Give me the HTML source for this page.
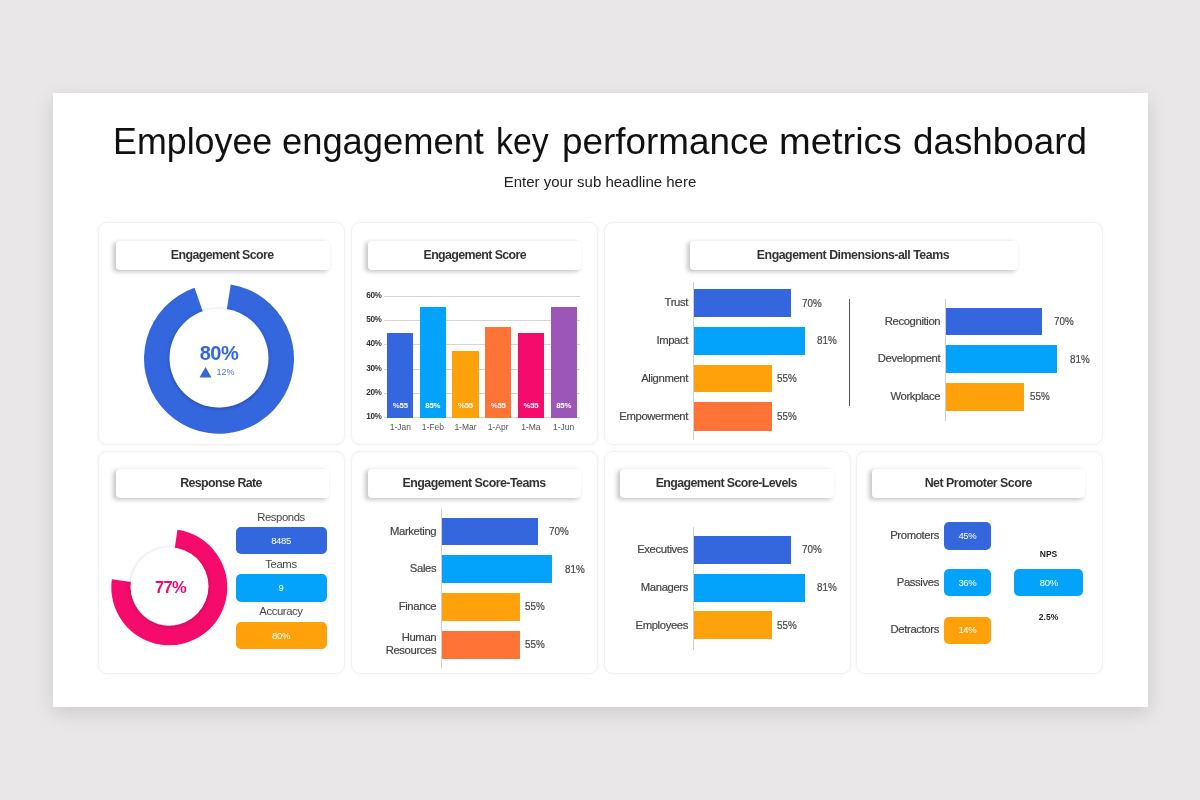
<!DOCTYPE html>
<html lang="en">
<head>
<meta charset="utf-8">
<title>Employee engagement key performance metrics dashboard</title>
<style>
*{box-sizing:border-box;margin:0;padding:0}
html,body{width:1200px;height:800px;overflow:hidden}
body{background:#e9e7e8;font-family:"Liberation Sans",sans-serif;position:relative;color:#444}
.slide{position:absolute;left:53px;top:93px;width:1095px;height:614px;background:#fff;box-shadow:0 6px 18px rgba(0,0,0,.13)}
.abs{position:absolute}
h1{position:absolute;left:0;top:118px;width:1200px;height:48px;font-weight:400;font-size:36.6px;line-height:48px;color:#111;white-space:nowrap}
h1 span{position:absolute;top:0;transform-origin:left center;display:block}
.sub{position:absolute;left:0;top:172px;width:1200px;text-align:center;font-size:15px;line-height:20px;color:#222;white-space:nowrap}
.card{position:absolute;background:#fff;border:1.5px solid #f1f1f1;border-radius:9px;box-shadow:0 0 4px rgba(0,0,0,.04)}
.pill{position:absolute;height:29px;background:#fff;border-radius:4px;box-shadow:-2.5px 1.5px 4px rgba(0,0,0,.22);text-align:center;font-weight:700;font-size:12.4px;letter-spacing:-.6px;line-height:29px;color:#333;white-space:nowrap}
.t{position:absolute;white-space:nowrap;line-height:1}
.lab{position:absolute;white-space:nowrap;font-size:11.3px;line-height:13px;letter-spacing:-.38px;color:#444;text-align:right;-webkit-text-stroke:.2px #444;margin-top:.4px}
.val{position:absolute;white-space:nowrap;font-size:11.2px;line-height:14px;color:#444;-webkit-text-stroke:.2px #444;transform:scaleX(.88);transform-origin:left center}
.bar{position:absolute}
.c1{background:#3466dd}.c2{background:#03a3fb}.c3{background:#ffa10a}.c4{background:#ff7337}.c5{background:#f40b6b}.c6{background:#9c56b8}
.axis{position:absolute;width:1px;background:#cfcfcf}
.btn{position:absolute;border-radius:5px;color:#fff;text-align:center;font-size:9.5px;letter-spacing:-.3px;white-space:nowrap}
</style>
</head>
<body>
<div class="slide"></div>
<h1><span style="left:113.2px;transform:scaleX(0.979)">Employee</span> <span style="left:281.6px;transform:scaleX(0.993)">engagement</span> <span style="left:495.9px;transform:scaleX(0.926)">key</span> <span style="left:561.8px;transform:scaleX(1.007)">performance</span> <span style="left:778.9px;transform:scaleX(1.041)">metrics</span> <span style="left:913.0px;transform:scaleX(1.006)">dashboard</span></h1>
<div class="sub">Enter your sub headline here</div>

<!-- cards -->
<div class="card" style="left:98px;top:222px;width:247px;height:223px"></div>
<div class="card" style="left:351px;top:222px;width:247px;height:223px"></div>
<div class="card" style="left:604px;top:222px;width:499px;height:223px"></div>
<div class="card" style="left:98px;top:451px;width:247px;height:223px"></div>
<div class="card" style="left:351px;top:451px;width:247px;height:223px"></div>
<div class="card" style="left:604px;top:451px;width:247px;height:223px"></div>
<div class="card" style="left:856px;top:451px;width:247px;height:223px"></div>

<!-- pills -->
<div class="pill" style="left:115.7px;top:240.8px;width:214.3px;padding-right:1.4px">Engagement Score</div>
<div class="pill" style="left:368.4px;top:240.8px;width:212.8px">Engagement Score</div>
<div class="pill" style="left:689.7px;top:240.8px;width:328.5px;padding-right:2px;letter-spacing:-.5px">Engagement Dimensions-all Teams</div>
<div class="pill" style="left:115.7px;top:468.8px;width:213.3px;padding-right:2.6px">Response Rate</div>
<div class="pill" style="left:368.2px;top:468.8px;width:212.8px;padding-right:1px;letter-spacing:-.52px">Engagement Score-Teams</div>
<div class="pill" style="left:620.2px;top:468.8px;width:213.5px;padding-right:1.4px">Engagement Score-Levels</div>
<div class="pill" style="left:871.7px;top:468.8px;width:213.3px;letter-spacing:-.5px">Net Promoter Score</div>

<!-- card1 donut -->
<svg class="abs" style="left:0;top:0" width="1200" height="800" viewBox="0 0 1200 800">
<defs><filter id="sh" x="-20%" y="-20%" width="140%" height="140%"><feGaussianBlur stdDeviation="2"/></filter></defs>
<path d="M230.73,284.62A75,75 0 1 1 194.58,287.79L203.21,312.84A48.5,48.5 0 1 0 226.59,310.80Z" fill="#3466dd"/>
<circle cx="219" cy="359" r="49" fill="#000" opacity=".32" filter="url(#sh)"/>
<circle cx="219" cy="358.1" r="49.5" fill="#fff"/>
<path d="M199.5,377.5L205.5,367L211.5,377.5Z" fill="#3466dd"/>
<!-- card4 donut -->
<path d="M177.37,529.86A58,58 0 1 1 111.86,579.23L131.17,581.94A38.5,38.5 0 1 0 174.66,549.17Z" fill="#f40b6b"/>
<circle cx="169.5" cy="587" r="38.5" fill="#000" opacity=".28" filter="url(#sh)"/>
<circle cx="169.5" cy="586.2" r="39" fill="#fff"/>
</svg>
<div class="t" style="left:169px;top:343px;width:100px;text-align:center;font-size:20px;font-weight:700;color:#3466dd;letter-spacing:-.5px">80%</div>
<div class="t" style="left:216.5px;top:368px;font-size:9px;color:#4a76e0">12%</div>
<div class="t" style="left:120.5px;top:579px;width:100px;text-align:center;font-size:16.5px;font-weight:700;color:#f40b6b;letter-spacing:-.7px">77%</div>

<!-- card2 column chart -->
<div class="abs" style="left:384px;top:295.6px;width:196px;height:1px;background:#d4d4d4"></div><div class="t" style="left:352px;top:291.6px;width:29.5px;text-align:right;font-size:8.2px;font-weight:700;color:#333;letter-spacing:-.4px">60%</div>
<div class="abs" style="left:384px;top:319.9px;width:196px;height:1px;background:#d4d4d4"></div><div class="t" style="left:352px;top:315.9px;width:29.5px;text-align:right;font-size:8.2px;font-weight:700;color:#333;letter-spacing:-.4px">50%</div>
<div class="abs" style="left:384px;top:344.2px;width:196px;height:1px;background:#d4d4d4"></div><div class="t" style="left:352px;top:340.2px;width:29.5px;text-align:right;font-size:8.2px;font-weight:700;color:#333;letter-spacing:-.4px">40%</div>
<div class="abs" style="left:384px;top:368.8px;width:196px;height:1px;background:#d4d4d4"></div><div class="t" style="left:352px;top:364.8px;width:29.5px;text-align:right;font-size:8.2px;font-weight:700;color:#333;letter-spacing:-.4px">30%</div>
<div class="abs" style="left:384px;top:393.1px;width:196px;height:1px;background:#d4d4d4"></div><div class="t" style="left:352px;top:389.1px;width:29.5px;text-align:right;font-size:8.2px;font-weight:700;color:#333;letter-spacing:-.4px">20%</div>
<div class="abs" style="left:384px;top:417.1px;width:196px;height:1px;background:#d4d4d4"></div><div class="t" style="left:352px;top:413.1px;width:29.5px;text-align:right;font-size:8.2px;font-weight:700;color:#333;letter-spacing:-.4px">10%</div>
<div class="bar c1" style="left:387.1px;top:333.3px;width:26.4px;height:84.3px"></div><div class="t" style="left:387.1px;top:402px;width:26.4px;text-align:center;font-size:7.8px;letter-spacing:-.25px;font-weight:700;color:#fff">%55</div><div class="t" style="left:382.1px;top:423px;width:36.4px;text-align:center;font-size:8.5px;color:#555">1-Jan</div>
<div class="bar c2" style="left:419.6px;top:306.6px;width:26.4px;height:111.0px"></div><div class="t" style="left:419.6px;top:402px;width:26.4px;text-align:center;font-size:7.8px;letter-spacing:-.25px;font-weight:700;color:#fff">85%</div><div class="t" style="left:414.6px;top:423px;width:36.4px;text-align:center;font-size:8.5px;color:#555">1-Feb</div>
<div class="bar c3" style="left:452.3px;top:350.7px;width:26.4px;height:66.9px"></div><div class="t" style="left:452.3px;top:402px;width:26.4px;text-align:center;font-size:7.8px;letter-spacing:-.25px;font-weight:700;color:#fff">%55</div><div class="t" style="left:447.3px;top:423px;width:36.4px;text-align:center;font-size:8.5px;color:#555">1-Mar</div>
<div class="bar c4" style="left:485px;top:327.3px;width:26.4px;height:90.3px"></div><div class="t" style="left:485px;top:402px;width:26.4px;text-align:center;font-size:7.8px;letter-spacing:-.25px;font-weight:700;color:#fff">%55</div><div class="t" style="left:480px;top:423px;width:36.4px;text-align:center;font-size:8.5px;color:#555">1-Apr</div>
<div class="bar c5" style="left:517.7px;top:333.3px;width:26.4px;height:84.3px"></div><div class="t" style="left:517.7px;top:402px;width:26.4px;text-align:center;font-size:7.8px;letter-spacing:-.25px;font-weight:700;color:#fff">%55</div><div class="t" style="left:512.7px;top:423px;width:36.4px;text-align:center;font-size:8.5px;color:#555">1-Ma</div>
<div class="bar c6" style="left:550.5px;top:306.6px;width:26.4px;height:111.0px"></div><div class="t" style="left:550.5px;top:402px;width:26.4px;text-align:center;font-size:7.8px;letter-spacing:-.25px;font-weight:700;color:#fff">85%</div><div class="t" style="left:545.5px;top:423px;width:36.4px;text-align:center;font-size:8.5px;color:#555">1-Jun</div>

<!-- card3 -->
<div class="axis" style="left:692.7px;top:281.5px;height:158.2px"></div>
<div class="bar c1" style="left:693.7px;top:289.3px;width:97.0px;height:27.7px"></div><div class="lab" style="right:512px;top:296.1px">Trust</div><div class="val" style="left:801.5px;top:295.6px">70%</div>
<div class="bar c2" style="left:693.7px;top:327px;width:111.3px;height:27.7px"></div><div class="lab" style="right:512px;top:333.9px">Impact</div><div class="val" style="left:817px;top:333.4px">81%</div>
<div class="bar c3" style="left:693.7px;top:364.7px;width:78.3px;height:27.7px"></div><div class="lab" style="right:512px;top:371.5px">Alignment</div><div class="val" style="left:776.8px;top:371.0px">55%</div>
<div class="bar c4" style="left:693.7px;top:402.4px;width:78.3px;height:28.2px"></div><div class="lab" style="right:512px;top:409.5px">Empowerment</div><div class="val" style="left:776.8px;top:409.0px">55%</div>
<div class="abs" style="left:848.7px;top:298.8px;width:1px;height:107.5px;background:#555"></div>
<div class="axis" style="left:944.9px;top:298.8px;height:122.7px"></div>
<div class="bar c1" style="left:945.9px;top:308px;width:96.1px;height:27.2px"></div><div class="lab" style="right:259.79999999999995px;top:314.6px">Recognition</div><div class="val" style="left:1053.7px;top:314.1px">70%</div>
<div class="bar c2" style="left:945.9px;top:345.2px;width:110.8px;height:27.8px"></div><div class="lab" style="right:259.79999999999995px;top:352.1px">Development</div><div class="val" style="left:1070px;top:351.6px">81%</div>
<div class="bar c3" style="left:945.9px;top:383px;width:77.9px;height:27.6px"></div><div class="lab" style="right:259.79999999999995px;top:389.8px">Workplace</div><div class="val" style="left:1029.9px;top:389.3px">55%</div>

<!-- card4 -->
<div class="t" style="left:231px;top:512.4px;width:100px;text-align:center;font-size:11.3px;letter-spacing:-.4px;color:#444">Responds</div><div class="btn c1" style="left:235.6px;top:526.7px;width:91px;height:27.7px;line-height:27.7px">8485</div>
<div class="t" style="left:231px;top:559.2px;width:100px;text-align:center;font-size:11.3px;letter-spacing:-.4px;color:#444">Teams</div><div class="btn c2" style="left:235.6px;top:573.9px;width:91px;height:27.7px;line-height:27.7px">9</div>
<div class="t" style="left:231px;top:606.0px;width:100px;text-align:center;font-size:11.3px;letter-spacing:-.4px;color:#444">Accuracy</div><div class="btn c3" style="left:235.6px;top:621.6px;width:91px;height:27.3px;line-height:27.3px">80%</div>

<!-- card5 -->
<div class="axis" style="left:440.9px;top:508.5px;height:159.0px"></div>
<div class="bar c1" style="left:441.9px;top:517.6px;width:96.1px;height:27.7px"></div><div class="lab" style="right:763.8px;top:524.5px">Marketing</div><div class="val" style="left:549.3px;top:524.0px">70%</div>
<div class="bar c2" style="left:441.9px;top:555.3px;width:110.5px;height:27.7px"></div><div class="lab" style="right:763.8px;top:562.1px">Sales</div><div class="val" style="left:565.4px;top:561.6px">81%</div>
<div class="bar c3" style="left:441.9px;top:593px;width:78.0px;height:27.7px"></div><div class="lab" style="right:763.8px;top:599.9px">Finance</div><div class="val" style="left:525px;top:599.4px">55%</div>
<div class="bar c4" style="left:441.9px;top:630.7px;width:78.0px;height:28.1px"></div><div class="lab" style="right:763.8px;top:630.8px">Human<br>Resources</div><div class="val" style="left:525px;top:637.2px">55%</div>

<!-- card6 -->
<div class="axis" style="left:692.7px;top:526.7px;height:123.5px"></div>
<div class="bar c1" style="left:693.7px;top:536.2px;width:97.0px;height:27.7px"></div><div class="lab" style="right:512px;top:542.9px">Executives</div><div class="val" style="left:801.5px;top:542.4px">70%</div>
<div class="bar c2" style="left:693.7px;top:573.9px;width:111.3px;height:27.7px"></div><div class="lab" style="right:512px;top:580.5px">Managers</div><div class="val" style="left:817px;top:580.0px">81%</div>
<div class="bar c3" style="left:693.7px;top:611.2px;width:78.3px;height:28.1px"></div><div class="lab" style="right:512px;top:618.2px">Employees</div><div class="val" style="left:776.8px;top:617.8px">55%</div>

<!-- card7 -->
<div class="lab" style="right:261.1px;top:528.5px">Promoters</div><div class="btn c1" style="left:943.6px;top:522.3px;width:47.7px;height:27.3px;line-height:27.3px">45%</div>
<div class="lab" style="right:261.1px;top:575.2px">Passives</div><div class="btn c2" style="left:943.6px;top:569.1px;width:47.7px;height:27.3px;line-height:27.3px">36%</div>
<div class="lab" style="right:261.1px;top:622.8px">Detractors</div><div class="btn c3" style="left:943.6px;top:616.8px;width:47.7px;height:26.9px;line-height:26.9px">14%</div>
<div class="btn c2" style="left:1014.3px;top:569.1px;width:69px;height:27.3px;line-height:27.3px">80%</div>
<div class="t" style="left:998.5px;top:550.3px;width:100px;text-align:center;font-size:8.5px;font-weight:700;color:#222">NPS</div>
<div class="t" style="left:998.5px;top:612.7px;width:100px;text-align:center;font-size:8.5px;font-weight:700;color:#222">2.5%</div>

</body>
</html>
